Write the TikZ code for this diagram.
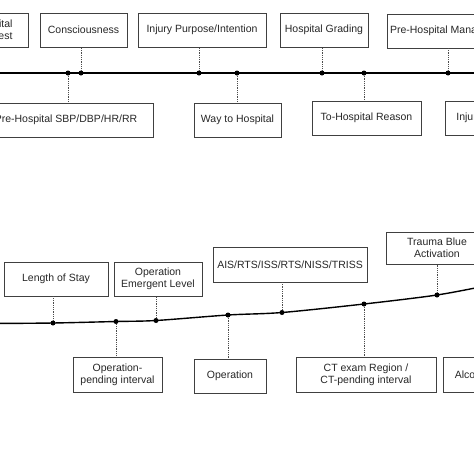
\documentclass[tikz,border=0pt]{standalone}
\usepackage{fontspec}
\setmainfont{Liberation Sans}
\usepackage{tikz}

\begin{document}
\begin{tikzpicture}[x=1pt, y=-1pt,
  every node/.style={font=\fontsize{10.5}{12.4}\selectfont},
  box/.style={draw=black!75, line width=0.8pt, minimum height=34pt, inner sep=0pt, align=center, text=black!85},
  dot/.style={circle, fill=black, inner sep=0pt, minimum size=5pt},
  conn/.style={densely dotted, line width=0.8pt, black!70},
  axis/.style={line width=1.4pt}]
\useasboundingbox (0,0) rectangle (474,474);
\clip (0,0) rectangle (474,474);

% upper time line
\coordinate (ta) at (-10,73);
\coordinate (tb) at (490,73);
\draw[axis] (ta) -- (tb);

\node[dot](p1) at (68,73) {};
\node[dot](p2) at (81,73) {};
\node[dot](p3) at (199,73) {};
\node[dot](p4) at (237,73) {};
\node[dot](p5) at (322,73) {};
\node[dot](p6) at (364,73) {};
\node[dot](p7) at (448,73) {};

\node[box, text width=76pt, inner xsep=15.5pt, align=right](arrest) at (-25.5,30) {Pre-Hospital\\Cardiac Arrest};
\node[box, minimum width=87pt](consc) at (83.5,30) {Consciousness};
\node[box, minimum width=128pt](purpose) at (202,30) {Injury Purpose/Intention};
\node[box, minimum width=88pt](grading) at (324,30) {Hospital Grading};
\node[box, minimum width=128pt](premgmt) at (451,31) {Pre-Hospital Management};

\node[box, minimum width=174pt](vitals) at (66,120) {Pre-Hospital SBP/DBP/HR/RR};
\node[box, minimum width=87pt](way) at (237.5,120) {Way to Hospital};
\node[box, minimum width=109pt](reason) at (366.5,118) {To-Hospital Reason};
\node[box, minimum width=105pt](mech) at (497.5,118) {Injury Mechanism};

\path[conn] (p1) edge (p1 |- vitals.north);
\path[conn] (p2) edge (p2 |- consc.south);
\path[conn] (p3) edge (p3 |- purpose.south);
\path[conn] (p4) edge (p4 |- way.north);
\path[conn] (p5) edge (p5 |- grading.south);
\path[conn] (p6) edge (p6 |- reason.north);
\path[conn] (p7) edge (p7 |- premgmt.south);

% lower time line
\draw[axis] plot[smooth, tension=0.5] coordinates {(-10,323.5) (53,323) (116,321.5) (156,320.5) (228,315) (282,312.5) (364,304) (437,295) (490,285)};

\node[dot](q1) at (53,323) {};
\node[dot](q2) at (116,321.5) {};
\node[dot](q3) at (156,320.5) {};
\node[dot](q4) at (228,315) {};
\node[dot](q5) at (282,312.5) {};
\node[dot](q6) at (364,304) {};
\node[dot](q7) at (437,295) {};

\node[box, minimum width=104pt](stay) at (56,279) {Length of Stay};
\node[box, minimum width=88pt](emergent) at (158,279) {Operation\\Emergent Level};
\node[box, minimum width=154pt, minimum height=35pt](ais) at (290,264.5) {AIS/RTS/ISS/RTS/NISS/TRISS};
\node[box, minimum width=102pt, minimum height=32pt](trauma) at (437,248) {Trauma Blue\\Activation};

\node[box, minimum width=89pt, minimum height=35pt](pending) at (117.5,374.5) {Operation-\\pending interval};
\node[box, minimum width=72pt](operation) at (230,376) {Operation};
\node[box, minimum width=140pt, minimum height=35pt](ct) at (366,374.5) {CT exam Region /\\CT-pending interval};
\node[box, minimum width=58pt, minimum height=35pt](alcohol) at (472,374.5) {Alcohol};

\path[conn] (q1) edge (q1 |- stay.south);
\path[conn] (q2) edge (q2 |- pending.north);
\path[conn] (q3) edge (q3 |- emergent.south);
\path[conn] (q4) edge (q4 |- operation.north);
\path[conn] (q5) edge (q5 |- ais.south);
\path[conn] (q6) edge (q6 |- ct.north);
\path[conn] (q7) edge (q7 |- trauma.south);
\end{tikzpicture}
\end{document}
